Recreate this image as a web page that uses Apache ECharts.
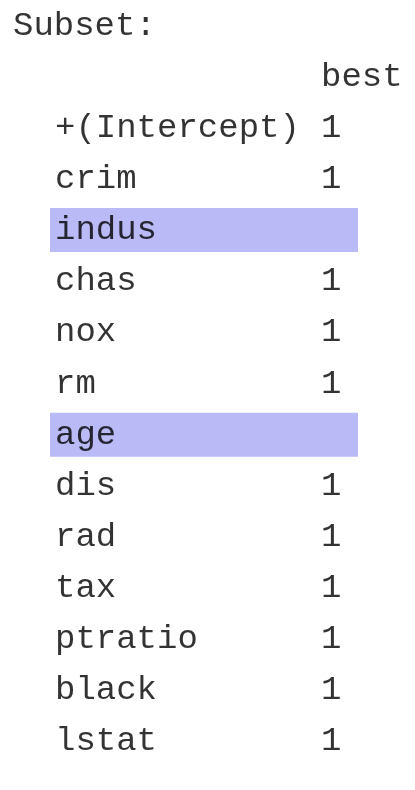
<!DOCTYPE html>
<html><head><meta charset="utf-8">
<script src="https://cdn.jsdelivr.net/npm/echarts@6/dist/echarts.min.js"></script>
<style>html,body{margin:0;background:#fff}#c{width:415px;height:790px}</style>
</head><body><div id="c"></div>
<script>
const title = "Subset:";
const header = "best";
const variables = ["+(Intercept)","crim","indus","chas","nox","rm","age","dis","rad","tax","ptratio","black","lstat"];
const best = ["1","1","","1","1","1","","1","1","1","1","1","1"];
const highlighted = ["indus","age"];

const rows = ["title","header"].concat(variables);
const chart = echarts.init(document.getElementById('c'));
const font = {fontFamily:"Liberation Mono", fontSize:34, color:"#000"};
const lab = (pos)=>({show:true, formatter:p=>p.data.t, position:pos||'right', distance:0, ...font});
const textData = [];
textData.push({value:[13,"title"], t:title});
textData.push({value:[321,"header"], t:header});
variables.forEach((v,i)=>{
  textData.push({value:[55,v], t:v});
  if(best[i]) textData.push({value:[321,v], t:best[i]});
});
chart.setOption({
  animation:false,
  grid:{left:0,right:0,top:-1,bottom:23},
  xAxis:{type:'value',min:0,max:415,show:false},
  yAxis:{type:'category',data:rows,inverse:true,show:false},
  series:[
    {type:'custom', data:highlighted.map(h=>[h]),
     renderItem:(params,api)=>{
       const c = api.coord([50,api.value(0)]);
       const e = api.coord([358,api.value(0)]);
       return {type:'rect', shape:{x:c[0],y:c[1]-22,width:e[0]-c[0],height:44},
               style:{fill:'#babaf7'}};
     }, encode:{y:0}},
    {type:'scatter', symbolSize:0, data:textData, label:lab(), z:5}
  ]
});
</script></body></html>
